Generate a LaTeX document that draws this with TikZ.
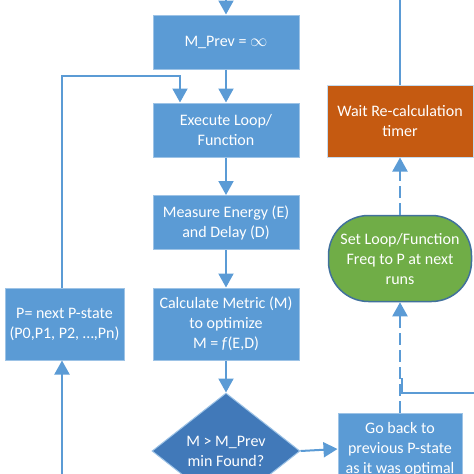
\documentclass[tikz,border=0pt]{standalone}
\usepackage{fontspec}
\setmainfont{Carlito}
\usetikzlibrary{shapes.geometric,arrows.meta}
\definecolor{boxblue}{HTML}{5B9BD5}
\definecolor{edgeblue}{HTML}{9DC3E6}
\definecolor{diamblue}{HTML}{4179B9}
\definecolor{lineblue}{HTML}{5B9BD5}
\definecolor{waitorange}{HTML}{C55A11}
\definecolor{setgreen}{HTML}{70AD47}
\definecolor{greenedge}{HTML}{41719C}
\begin{document}
\begin{tikzpicture}[x=1pt,y=-1pt,
box/.style={draw=edgeblue,line width=1pt,fill=boxblue,text=white,align=center,
  minimum width=146pt,minimum height=54pt,inner sep=2pt,font=\fontsize{16}{20}\selectfont},
arr/.style={draw=lineblue,line width=2pt,-{Triangle[width=15pt,length=14pt]}},
dasharr/.style={arr,dash pattern=on 12pt off 5pt}]
\useasboundingbox (0,0) rectangle (474,474);
% main column
\node[box](prev)at(226,42){M\_Prev = $\infty$};
\node[box](exec)at(226,130){Execute Loop/\\Function};
\node[box](meas)at(226,222.5){Measure Energy (E)\\and Delay (D)};
\node[box,minimum height=72pt](calc)at(226,324){Calculate Metric (M)\\to optimize\\M = \textit{f}(E,D)};
\node[diamond,fill=diamblue,draw=edgeblue,line width=1pt,text=white,align=center,aspect=1.28,
  minimum width=148pt,minimum height=116pt,inner sep=0pt,font=\fontsize{16}{20}\selectfont](diam)at(226,451){M > M\_Prev\\min Found?};
% left and right columns
\node[box,minimum width=119pt,minimum height=72pt](next)at(64.5,324){P= next P-state\\(P0,P1, P2, \dots,Pn)};
\node[box,fill=waitorange,draw=edgeblue!60,minimum height=72pt](wait)at(400,121){Wait Re-calculation\\timer};
\node[box,fill=setgreen,draw=greenedge,line width=1.5pt,minimum width=143pt,minimum height=86pt,
  rounded corners=40pt](setf)at(400,258.5){Set Loop/Function\\Freq to P at next\\runs};
\node[box,minimum width=124pt,minimum height=72pt](back)at(400,449){Go back to\\previous P-state\\as it was optimal};
\coordinate(in)at(226,-6);
\coordinate(loopin)at(62,490);
\coordinate(outtop)at(400,-6);
\coordinate(join)at(480,393);
% connectors
\draw[arr](in)--(prev);
\draw[arr](prev)--(exec);
\draw[arr](exec)--(meas);
\draw[arr](meas)--(calc);
\draw[arr](calc)--(diam);
\draw[arr](diam.east)--(back.west);
\draw[arr]([xshift=-2.5pt]next.north)--++(0,-212)-|([xshift=-46pt]exec.north);
\draw[arr](loopin)--([xshift=-2.5pt]next.south);
\draw[lineblue,line width=1.5pt](outtop)--(wait.north);
\draw[dasharr](setf)--(wait);
\draw[dasharr](back)--(setf);
\draw[lineblue,line width=2pt](join)--(402,393)--(402,378);
\end{tikzpicture}
\end{document}
